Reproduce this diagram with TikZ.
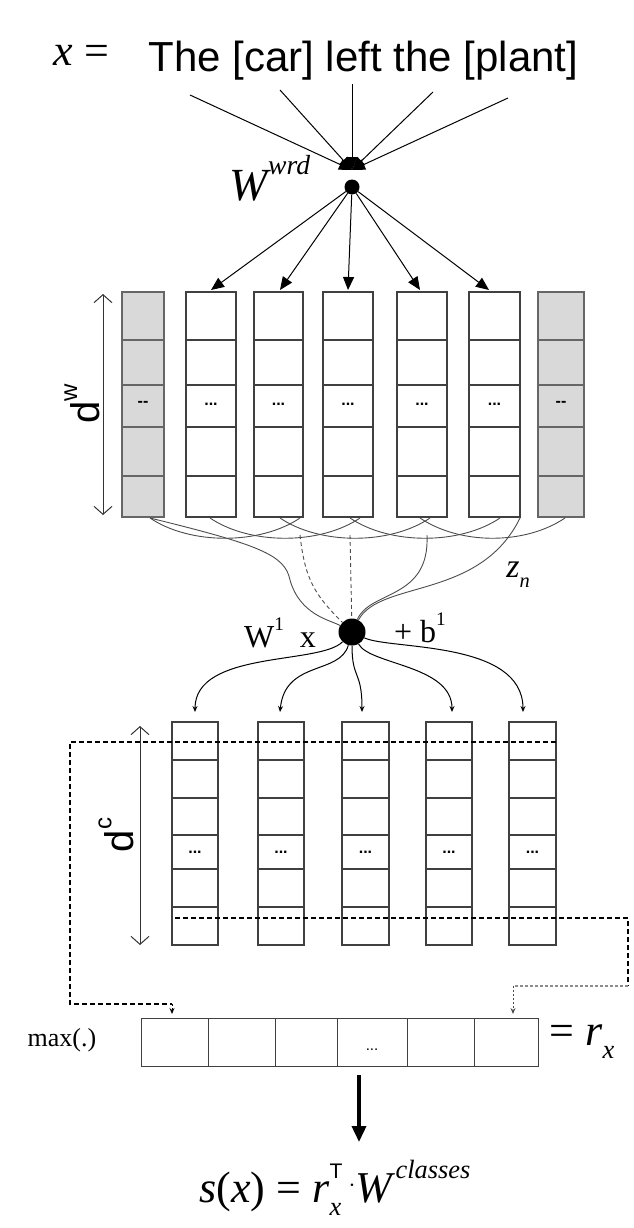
\documentclass[tikz,border=0pt]{standalone}
\usepackage{fontspec}
\setmainfont{Liberation Serif}
\newfontfamily\sans{Liberation Sans}
\usetikzlibrary{arrows.meta}
\newcommand{\supr}[1]{\raisebox{0.55em}{\scalebox{0.6}{#1}}}
\newcommand{\subr}[1]{\raisebox{-0.3em}{\scalebox{0.6}{#1}}}
\begin{document}
\begin{tikzpicture}[x=1pt,y=-1pt,
  cell/.style={draw=black!75,line width=1.2pt},
  gcell/.style={draw=black!60,fill=black!15,line width=1.2pt},
  thin/.style={draw=black!70,line width=0.9pt},
  tri/.style={-{Triangle[length=13pt,width=11pt]},line width=1pt},
  small/.style={-{Stealth[length=6pt,width=5pt]},line width=1pt},
  dsh/.style={dash pattern=on 5pt off 3pt,line width=1.2pt}]
\useasboundingbox (0,0) rectangle (634,1228);
% top text
\node[anchor=base west,font=\fontsize{44}{44}\selectfont] (xeq) at (50,66) {\textit{x} =};
\node[anchor=base west,font=\sans\fontsize{42}{42}\selectfont] (sent) at (145,72) {The [car] left the [plant]};
\coordinate (w1) at (190,95); \coordinate (w2) at (280,90); \coordinate (w3) at (352,84);
\coordinate (w4) at (433,92); \coordinate (w5) at (508,98);
\coordinate (J) at (352,170);
\node[circle,fill=black,inner sep=0pt,minimum size=15pt] (wd) at (352,187) {};
\node[font=\fontsize{46}{46}\selectfont\itshape,anchor=base] (wl) at (270,200) {W\supr{wrd}};
\foreach \w in {w1,w2,w3,w4,w5} \draw[tri] (\w) -- (J);
% top columns
\foreach \x/\w/\s/\t in {122/42/gcell/{\textbf{--}},538/46/gcell/{\textbf{--}},186/50/cell/{\textbf{...}},254/49/cell/{\textbf{...}},323/50/cell/{\textbf{...}},397/50/cell/{\textbf{...}},469/51/cell/{\textbf{...}}}{
  \foreach \a/\b in {292/340,340/385,385/427,427/476,476/517}
    \draw[\s] (\x,\a) rectangle ++(\w,\b-\a);
  \node[font=\sans\fontsize{16}{16}\selectfont] at (\x+\w/2,404) {\t};
}
\foreach \n/\x in {t1/211,t2/280,t3/348,t4/420,t5/489} \coordinate (\n) at (\x,290);
\foreach \n in {t1,t2,t3,t4,t5} \draw[tri] (wd) -- (\n);
% dw
\draw[{Straight Barb[length=8pt,width=18pt]}-{Straight Barb[length=8pt,width=18pt]},line width=1pt,black!80] (103,294) -- (103,515);
\node[rotate=90,font=\sans\fontsize{40}{40}\selectfont] (dw) at (82,404) {d\supr{w}};
% convolution connectors
\node[circle,fill=black,inner sep=0pt,minimum size=27pt] (h) at (352,632) {};
\foreach \a/\b in {150/300,210/360,280/430,350/500,420/565}
  \draw[thin] (\a,518) .. controls (\a+40,545) and (\b-40,545) .. (\b,518);
\draw[thin] (150,518) .. controls (260,545) and (285,555) .. (290,580) .. controls (300,615) and (330,620) .. (h);
\draw[thin,dash pattern=on 4pt off 3pt] (300,535) .. controls (305,580) and (315,595) .. (h);
\draw[thin,dash pattern=on 4pt off 3pt] (350,535) -- (h);
\draw[thin] (427,535) .. controls (430,600) and (370,590) .. (h);
\draw[thin] (520,518) .. controls (480,600) and (380,580) .. (h);
\node[font=\fontsize{34}{34}\selectfont\itshape] (zn) at (518,575) {z\subr{n}};
\node[font=\fontsize{32}{32}\selectfont] (wx) at (280,633) {W\supr{1}\ \ x};
\node[font=\fontsize{32}{32}\selectfont] (b1) at (420,628) {+ b\supr{1}};
% lower columns
\foreach \x/\w in {172/46,258/46,342/47,426/46,509/47}{
  \foreach \a/\b in {722/760,760/798,798/835,835/869,869/907,907/945}
    \draw[cell] (\x,\a) rectangle ++(\w,\b-\a);
  \node[font=\sans\fontsize{16}{16}\selectfont] at (\x+\w/2,852) {\textbf{...}};
}
\foreach \n/\x in {u1/195,u2/280,u3/362,u4/452,u5/523} \coordinate (\n) at (\x,712);
\draw[small] (h) .. controls (320,665) and (195,650) .. (u1);
\draw[small] (h) .. controls (340,675) and (285,660) .. (u2);
\draw[small] (h) .. controls (352,680) and (362,670) .. (u3);
\draw[small] (h) .. controls (370,665) and (452,665) .. (u4);
\draw[small] (h) .. controls (390,650) and (523,640) .. (u5);
\draw[{Straight Barb[length=8pt,width=18pt]}-{Straight Barb[length=8pt,width=18pt]},line width=1pt,black!80] (140,726) -- (140,945);
\node[rotate=90,font=\sans\fontsize{40}{40}\selectfont] (dc) at (116,835) {d\supr{c}};
% max pooling dashed
\coordinate (m1) at (172,1014); \coordinate (m6) at (513,1014);
\draw[dsh] (556,742) -- (70,742) -- (70,1004) -- (172,1004);
\draw[small,dash pattern=on 2pt off 2pt] (172,1004) -- (m1);
\draw[dsh] (175,918) -- (628,918) -- (628,986);
\draw[dash pattern=on 3pt off 2pt,line width=1.2pt,black!45] (628,986) -- (513,986);
\draw[small,dash pattern=on 2pt off 2pt,black!70] (513,986) -- (m6);
% max vector
\foreach \a/\b in {141/208,208/275,275/337,337/407,407/474,474/538}
  \draw[cell,line width=1pt] (\a,1018) rectangle (\b,1066);
\node[font=\sans\fontsize{15}{15}\selectfont] at (372,1050) {...};
\node[font=\fontsize{26}{26}\selectfont] (mx) at (62,1040) {max(.)};
\node[font=\fontsize{44}{44}\selectfont,anchor=west] (rx) at (546,1042) {= \textit{r}\subr{\textit{x}}};
\coordinate (rv) at (359,1075); \coordinate (sx) at (359,1142);
\draw[-{Triangle[length=16pt,width=14pt]},line width=3.5pt] (rv) -- (sx);
\node[font=\fontsize{44}{44}\selectfont] (form) at (335,1188) {\textit{s}(\textit{x}) = \textit{r}\rlap{\supr{\sans\scalebox{0.8}{T}}}\subr{\textit{x}}\,\raisebox{0.25em}{$\cdot$}\textit{W}\supr{\textit{classes}}};
\end{tikzpicture}
\end{document}
